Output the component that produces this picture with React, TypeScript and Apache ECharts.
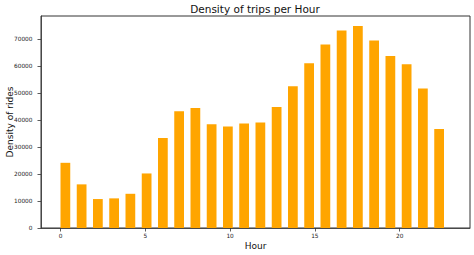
import React, { useEffect, useRef } from "react";
import * as echarts from "echarts";

const hours: number[] = [0, 1, 2, 3, 4, 5, 6, 7, 8, 9, 10, 11, 12, 13, 14, 15, 16, 17, 18, 19, 20, 21, 22, 23];
const rides: number[] = [
  24200, 16200, 10750, 11000, 12700, 20250, 33450, 43300, 44550, 38500, 37700, 38800,
  39150, 44950, 52600, 61200, 68150, 73350, 74950, 69650, 63850, 60750, 51750, 36750,
];
const xTicks: number[] = [0, 5, 10, 15, 20];
const yTicks: number[] = [0, 10000, 20000, 30000, 40000, 50000, 60000, 70000];

const FONT = "DejaVu Sans";

export default function App() {
  const ref = useRef<HTMLDivElement>(null);
  useEffect(() => {
    if (!ref.current) return;
    const chart = echarts.init(ref.current, null, { renderer: "svg" });
    const binWidth = (hours[hours.length - 1] - hours[0]) / hours.length;
    const barW = binWidth * 0.6;
    const data = hours.map((h, i) => [h * binWidth, rides[i]]);
    chart.setOption({
      animation: false,
      backgroundColor: "#ffffff",
      title: {
        text: "Density of trips per Hour",
        left: 255,
        top: 3,
        padding: 0,
        textAlign: "center",
        textStyle: { fontFamily: FONT, fontSize: 10.5, fontWeight: "normal", color: "#111" },
      },
      grid: {
        left: 41,
        right: 4,
        top: 16,
        bottom: 27,
        containLabel: false,
        outerBoundsMode: "none",
        show: true,
        borderColor: "#333",
        borderWidth: 1,
        backgroundColor: "transparent",
      },
      xAxis: {
        type: "value",
        min: -1.15,
        max: 24.15,
        name: "Hour",
        nameLocation: "middle",
        nameGap: 13,
        nameMoveOverlap: false,
        nameTextStyle: { fontFamily: FONT, fontSize: 9, color: "#111" },
        axisLine: { show: true, onZero: false, lineStyle: { color: "#333", width: 0.8 } },
        axisTick: { show: true, length: 3.5, customValues: xTicks, lineStyle: { color: "#333", width: 0.8 } },
        axisLabel: {
          customValues: xTicks,
          formatter: (v: number) => String(v),
          fontFamily: FONT,
          fontSize: 5.8,
          color: "#222",
          margin: 4.5,
        },
        splitLine: { show: false },
      },
      yAxis: {
        type: "value",
        min: 0,
        max: 78700,
        name: "Density of rides",
        nameLocation: "middle",
        nameGap: 27,
        nameMoveOverlap: false,
        nameTextStyle: { fontFamily: FONT, fontSize: 9, color: "#111" },
        axisLine: { show: true, onZero: false, lineStyle: { color: "#333", width: 0.8 } },
        axisTick: { show: true, length: 3.5, customValues: yTicks, lineStyle: { color: "#333", width: 0.8 } },
        axisLabel: {
          customValues: yTicks,
          formatter: (v: number) => String(v),
          fontFamily: FONT,
          fontSize: 5.8,
          color: "#222",
          margin: 8.5,
        },
        splitLine: { show: false },
      },
      series: [
        {
          type: "custom",
          encode: { x: 0, y: 1 },
          data,
          renderItem: (params: any, api: any) => {
            const x0 = api.value(0);
            const v = api.value(1);
            const p0 = api.coord([x0, v]);
            const p1 = api.coord([x0 + barW, 0]);
            return {
              type: "rect",
              shape: { x: p0[0], y: p0[1], width: p1[0] - p0[0], height: p1[1] - p0[1] },
              style: { fill: "#FFA500" },
            };
          },
        },
      ],
    });
    return () => chart.dispose();
  }, []);
  return (
    <div
      ref={ref}
      style={{ position: "fixed", left: 0, top: 0, width: 474, height: 255, background: "#fff" }}
    />
  );
}
